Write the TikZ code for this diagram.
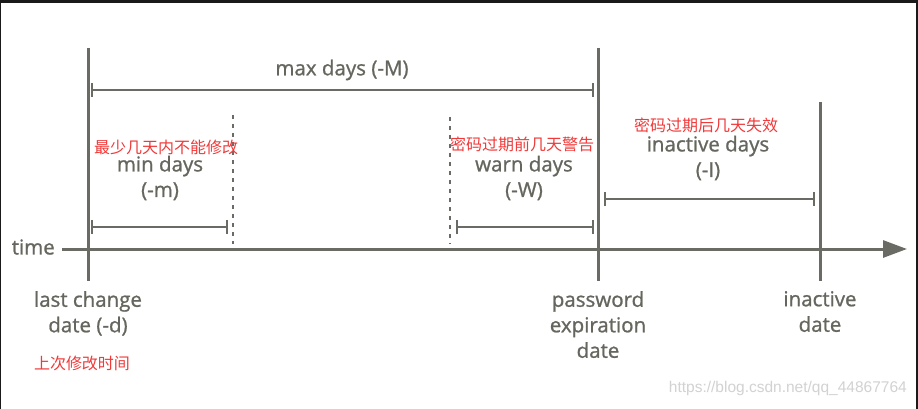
\documentclass[tikz,border=0pt]{standalone}
\usepackage{fontspec}
\setmainfont{Open Sans}
\newfontfamily\lblfont[FakeBold=1]{Open Sans}
\newfontfamily\cjk{Noto Sans CJK SC}
\newfontfamily\wm{Liberation Sans}
\usetikzlibrary{arrows.meta}
\definecolor{ink}{HTML}{6B6B66}
\definecolor{txt}{HTML}{66665F}
\definecolor{redtxt}{HTML}{F03A3A}
\definecolor{frame}{HTML}{1A1A1A}
\definecolor{wmc}{HTML}{D2D2D2}
\tikzset{
  vline/.style={draw=ink, line width=3pt},
  axis/.style={draw=ink, line width=3pt, -{Triangle[length=24pt,width=17pt]}},
  span/.style={draw=ink, line width=2pt, {Bar[width=14pt,line width=2.2pt]}-{Bar[width=14pt,line width=2.2pt]}},
  dotline/.style={draw=ink, line width=2.6pt, dash pattern=on 4pt off 5pt},
  lbl/.style={text=txt, font=\lblfont\fontsize{20.5}{25.5}\selectfont, align=center, inner sep=0pt},
  cn/.style={text=redtxt, font=\cjk\fontsize{16}{18}\selectfont, inner sep=0pt},
}
\begin{document}
\begin{tikzpicture}[x=1pt,y=-1pt]
\useasboundingbox (0,0) rectangle (918,409);
\fill[white] (0,0) rectangle (918,409);
% frame
\fill[frame] (0,0) rectangle (918,3);
\fill[frame] (0,0) rectangle (1.2,409);
\fill[frame] (915.5,0) rectangle (918,409);

% coordinates
\coordinate (lcT) at (88,48);
\coordinate (lcB) at (88,281);
\coordinate (peT) at (598,48);
\coordinate (peB) at (598,281);
\coordinate (inT) at (820,102);
\coordinate (inB) at (820,281);
\coordinate (axS) at (62,249);
\coordinate (axE) at (907,249);

% vertical lines
\draw[vline] (lcT) -- (lcB);
\draw[vline] (peT) -- (peB);
\draw[vline] (inT) -- (inB);
% time axis
\draw[axis] (axS) -- (axE);
\node[lbl, anchor=east] (time) at (55,247) {time};

% max days
\coordinate (maxL) at (91,90);
\coordinate (maxR) at (594,90);
\draw[span] (maxL) -- (maxR);
\node[lbl] (maxlbl) at (342,70) {max days (-M)};

% min days
\coordinate (minL) at (91,227);
\coordinate (minR) at (228,227);
\draw[span] (minL) -- (minR);
\coordinate (minDT) at (233,115);
\coordinate (minDB) at (233,244);
\draw[dotline] (minDT) -- (minDB);
\node[cn] (mincn) at (166,147) {最少几天内不能修改};
\node[lbl] (minlbl) at (160,178) {min days\\(-m)};

% warn days
\coordinate (warnL) at (456,227);
\coordinate (warnR) at (594,227);
\draw[span] (warnL) -- (warnR);
\coordinate (warnDT) at (450,117);
\coordinate (warnDB) at (450,244);
\draw[dotline] (warnDT) -- (warnDB);
\node[cn] (warncn) at (522,144) {密码过期前几天警告};
\node[lbl] (warnlbl) at (524,178) {warn days\\(-W)};

% inactive days
\coordinate (inaL) at (604,199);
\coordinate (inaR) at (815,199);
\draw[span] (inaL) -- (inaR);
\node[cn] (inacn) at (706,125) {密码过期后几天失效};
\node[lbl] (inalbl) at (708,158) {inactive days\\(-I)};

% bottom labels
\node[lbl, anchor=north] (lclbl) at (88,291) {last change\\date (-d)};
\node[cn] (lccn) at (82,363) {上次修改时间};
\node[lbl, anchor=north] (pelbl) at (598,291) {password\\expiration\\date};
\node[lbl, anchor=north] (inlbl) at (820,291) {inactive\\date};

% watermark
\node[text=wmc, font=\wm\fontsize{15.5}{18}\selectfont, inner sep=0pt, anchor=east] (wmark) at (907,388) {https://blog.csdn.net/qq\_44867764};
\end{tikzpicture}
\end{document}
